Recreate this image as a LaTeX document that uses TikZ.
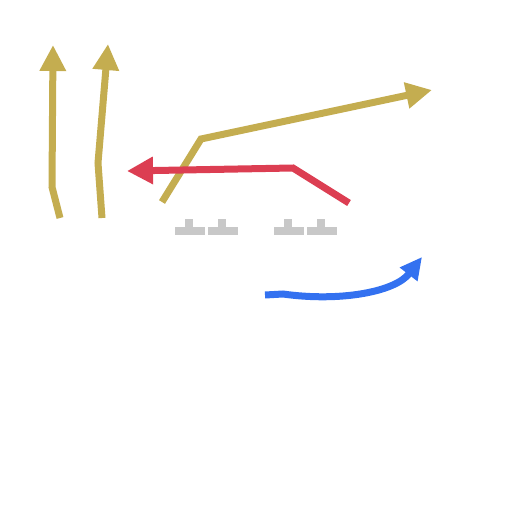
\documentclass[tikz,border=0pt]{standalone}
\usetikzlibrary{arrows.meta}
\definecolor{gold}{HTML}{C4AD50}
\definecolor{redc}{HTML}{DC3E52}
\definecolor{bluec}{HTML}{3371F0}
\definecolor{grayc}{HTML}{C8C8C8}
\begin{document}
\begin{tikzpicture}[x=1pt,y=-1pt,
  route/.style={line width=7pt,line cap=butt,line join=miter},
  goldroute/.style={route,draw=gold,-{Triangle[length=26pt,width=25pt,fill=gold]}},
  redroute/.style={route,draw=redc,-{Triangle[length=26pt,width=26pt,fill=redc]}},
  blueroute/.style={route,draw=bluec,-{Triangle[length=22pt,width=21pt,fill=bluec]}},
  player/.style={fill=grayc,draw=none}]
\useasboundingbox (0,0) rectangle (512,512);
% coordinates
\coordinate (a1) at (60,218); \coordinate (a2) at (52,187); \coordinate (a3) at (53,45);
\coordinate (b1) at (102,218); \coordinate (b2) at (98,163); \coordinate (b3) at (108,44);
\coordinate (c1) at (162,202); \coordinate (c2) at (201,139); \coordinate (c3) at (432,90);
\coordinate (d1) at (349,203); \coordinate (d2) at (293,168); \coordinate (d3) at (127,171);
\coordinate (e1) at (265,295); \coordinate (e2) at (283,294); \coordinate (e3) at (422,257);
% players
\foreach \x in {175,208,274,307}{
  \fill[player] (\x,227) rectangle ++(30,8);
  \fill[player] (\x+10,219) rectangle ++(8,8);
}
% routes
\draw[goldroute] (a1) -- (a2) -- (a3);
\draw[goldroute] (b1) -- (b2) -- (b3);
\draw[goldroute] (c1) -- (c2) -- (c3);
\draw[redroute] (d1) -- (d2) -- (d3);
\draw[blueroute] (e1) -- (e2) .. controls (340,302) and (395,292) .. (e3);
\end{tikzpicture}
\end{document}
